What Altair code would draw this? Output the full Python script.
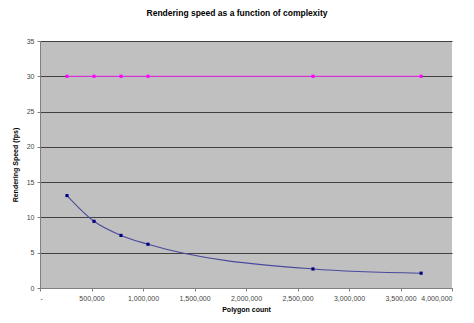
import altair as alt
import pandas as pd

polygons = [262144, 524288, 786432, 1048576, 2650000, 3700000]
fps_measured = [13.1, 9.45, 7.45, 6.2, 2.7, 2.1]
fps_target = [30, 30, 30, 30, 30, 30]
series_names = ["Measured", "Target"]
x_ticks = [0, 500000, 1000000, 1500000, 2000000, 2500000, 3000000, 3500000, 4000000]
y_ticks = [0, 5, 10, 15, 20, 25, 30, 35]

rows = []
for x, m, t in zip(polygons, fps_measured, fps_target):
    rows.append({"polygons": x, "fps": m, "series": series_names[0]})
    rows.append({"polygons": x, "fps": t, "series": series_names[1]})
df = pd.DataFrame(rows)

FONT = "Liberation Sans"

color = alt.Color("series:N", scale=alt.Scale(domain=series_names, range=["#000080", "#FF00FF"]), legend=None)
line_color = alt.Color("series:N", scale=alt.Scale(domain=series_names, range=["#4a4a9c", "#FF33FF"]), legend=None)

xenc = alt.X(
    "polygons:Q",
    scale=alt.Scale(domain=[0, 4000000], nice=False, zero=True),
    axis=alt.Axis(
        values=x_ticks,
        title="Polygon count",
        labelExpr="datum.value == 0 ? '-' : format(datum.value, ',')",
        grid=False,
        tickSize=3,
        tickColor="#808080",
        domainColor="#808080",
        labelFont=FONT,
        labelFontSize=7,
        labelColor="#444444",
        labelPadding=3,
        titleFont=FONT,
        titleFontSize=7,
        titleFontWeight="bold",
        titleColor="#000000",
        titlePadding=4,
    ),
)
yenc = alt.Y(
    "fps:Q",
    scale=alt.Scale(domain=[0, 35], nice=False),
    axis=alt.Axis(
        values=y_ticks,
        title="Rendering Speed (fps)",
        grid=True,
        gridColor="#404040",
        gridWidth=1,
        tickSize=3,
        tickColor="#808080",
        domainColor="#808080",
        labelFont=FONT,
        labelFontSize=7,
        labelColor="#444444",
        labelPadding=3,
        titleFont=FONT,
        titleFontSize=7,
        titleFontWeight="bold",
        titleColor="#000000",
        titlePadding=8,
    ),
)

lines = alt.Chart(df).mark_line(interpolate="monotone", strokeWidth=1.1).encode(x=xenc, y=yenc, color=line_color)
points = alt.Chart(df).mark_square(size=10, opacity=1).encode(x=xenc, y=yenc, color=color)

chart = (
    alt.layer(lines, points)
    .resolve_scale(color="independent")
    .properties(
        width=412,
        height=247,
        autosize=alt.AutoSizeParams(type="none"),
        padding={"left": 40, "top": 41, "right": 22, "bottom": 35},
        background="#FFFFFF",
        title=alt.TitleParams(
            "Rendering speed as a function of complexity",
            font=FONT,
            fontSize=8.5,
            fontWeight="bold",
            color="#000000",
            anchor="middle",
            dx=-9,
            offset=20,
        ),
    )
    .configure_view(fill="#C0C0C0", stroke=None)
)

chart.save("out.html", embed_options={"renderer": "svg", "actions": False})
